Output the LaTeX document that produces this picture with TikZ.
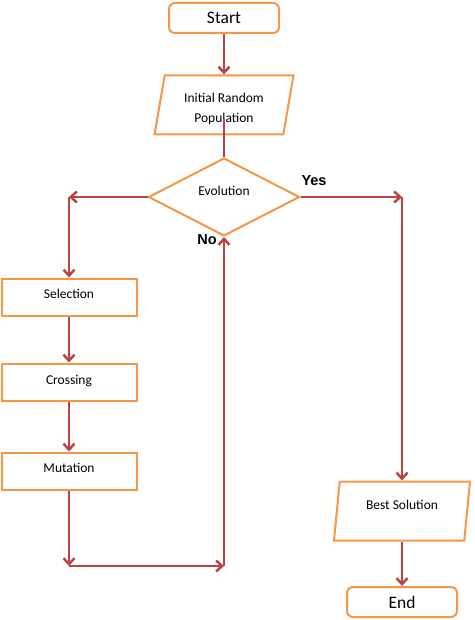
\documentclass[tikz,border=0pt]{standalone}
\usepackage{fontspec}
\setmainfont{Carlito}
\newfontfamily\answerfont{Liberation Sans}
\usetikzlibrary{shapes.geometric,arrows.meta}

\definecolor{boxorange}{RGB}{247,150,70}
\definecolor{flowred}{RGB}{185,68,68}

\tikzset{
  box/.style={draw=boxorange, line width=2pt, fill=white, minimum width=135pt,
    minimum height=37pt, inner sep=0pt, text height=10pt, text depth=8pt,
    font=\fontsize{13.5}{20}\selectfont},
  terminal/.style={box, rounded corners=6pt, minimum width=110pt,
    minimum height=30pt, text height=13pt, text depth=1pt,
    font=\fontsize{17.5}{20}\selectfont},
  iobox/.style={box, trapezium, trapezium left angle=76, trapezium right angle=104,
    trapezium stretches body, minimum height=59pt},
  decision/.style={box, diamond, aspect=2, minimum width=151pt, minimum height=78pt},
  flow/.style={draw=flowred, line width=2.5pt, -{Straight Barb[length=6pt,width=11pt]}},
  link/.style={draw=flowred, line width=2.5pt},
  answer/.style={font=\answerfont\bfseries\fontsize{14.5}{16}\selectfont}
}

\begin{document}
\begin{tikzpicture}[x=1pt, y=-1pt]
    \useasboundingbox (0,0) rectangle (474,620);

    % nodes
    \node[terminal] (start) at (224,18) {Start};
    \node[iobox, minimum width=139pt, align=center, text height=38pt, text depth=3pt] (init) at (224,105) {Initial Random\\Population};
    \node[decision, text depth=13pt] (evo) at (224,197) {Evolution};

    \node[box] (sel) at (69,297) {Selection};
    \node[box, text depth=6pt] (cross) at (69,382) {Crossing};
    \node[box] (mut) at (69,471) {Mutation};

    \node[iobox, minimum width=136pt, text depth=13pt] (best) at (402,511) {Best Solution};
    \node[terminal] (end) at (402,602) {End};

    % bends
    \coordinate (popline) at (224,119);
    \coordinate (noleft) at (69,197);
    \coordinate (yesright) at (402,197);
    \coordinate (loopleft) at (69,566);
    \coordinate (loopright) at (224,566);

    % main line
    \draw[flow] (start) -- (init);
    \draw[link] (popline) -- (evo.north);

    % left branch
    \draw[flow] (evo.west) -- (noleft);
    \draw[flow] (noleft) -- (sel);
    \draw[flow] (sel) -- (cross);
    \draw[flow] (cross) -- (mut);
    \draw[flow] (mut) -- (loopleft);
    \draw[flow] (loopleft) -- (loopright);
    \draw[flow] (loopright) -- (evo.south);

    % right branch
    \draw[flow] (evo.east) -- (yesright);
    \draw[flow] (yesright) -- (best);
    \draw[flow] (best) -- (end);

    % answers
    \node[answer] (yes) at (314,181) {Yes};
    \node[answer] (no) at (207,240) {No};
\end{tikzpicture}
\end{document}
